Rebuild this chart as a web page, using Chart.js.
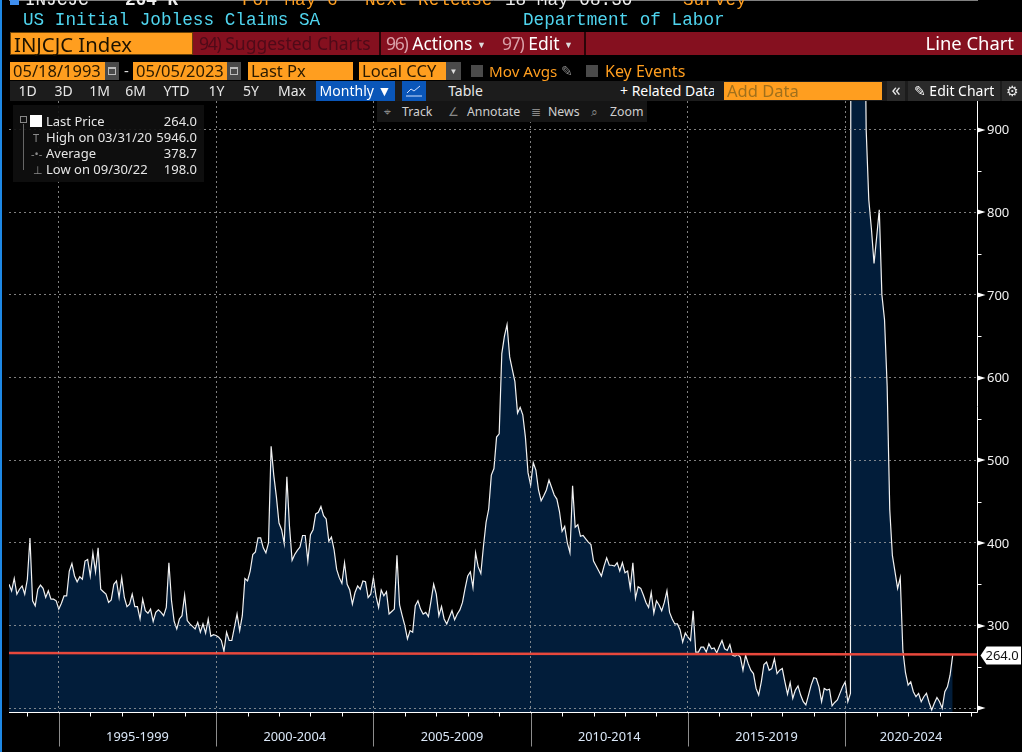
<!DOCTYPE html>
<html>
<head>
<meta charset="utf-8">
<title>US Initial Jobless Claims SA</title>
<script src="https://cdn.jsdelivr.net/npm/chart.js@4/dist/chart.umd.min.js"></script>
<style>
  html, body { margin: 0; padding: 0; background: #000; }
  #page { position: relative; width: 1022px; height: 752px; overflow: hidden; background: #000; font-family: "Noto Sans", sans-serif; }
  #chart { position: absolute; left: 0; top: 0; }
  .b { position: absolute; white-space: nowrap; box-sizing: border-box; }
  .mono { font-family: "Liberation Mono", monospace; font-size: 17.7px; line-height: 20px; }
  .org { background: #ff9e1f; color: #2a1a00; font-size: 16.5px; line-height: 18px; padding-left: 3px; }
  .cal { background: #4a4a4a; }
  .cal i { position: absolute; left: 3px; top: 5px; width: 8px; height: 8px; border: 1px solid #bbb; box-sizing: border-box; border-top-width: 2px; }
  .tab { background: #1c1c1c; color: #e8e8e8; font-size: 14px; line-height: 19px; text-align: center; height: 20px; top: 81px; }
  .float { color: #cfcfcf; font-size: 12.3px; line-height: 21px; top: 101px; }
  .leg { color: #e6e6e6; font-size: 13px; line-height: 16px; }
  .gl { color: #8a8a8a; font-size: 11px; line-height: 16px; }
  .hd { font-size: 17.5px; line-height: 22px; top: 32px; color: #fff; }
  .hd b { font-weight: normal; letter-spacing: -1.2px; color: #d9a0a8; }
  .hd u { text-decoration: none; font-size: 9px; vertical-align: 2px; color: #ddd; }
</style>
</head>
<body>
<div id="page">
  <canvas id="chart" width="1022" height="752"></canvas>

  <div class="b" style="left:0;top:0;width:2px;height:752px;background:#1e88e5"></div>
  <div class="b" style="left:10px;top:0;width:9px;height:5px;background:#3f8ff0"></div>

  <div class="b mono" style="left:25px;top:-10px;color:#eee">INJCJC</div>
  <div class="b mono" style="left:125px;top:-10px;color:#eee;font-weight:bold">264 K</div>
  <div class="b mono" style="left:242px;top:-10px;color:#ff9e1f">For May 6</div>
  <div class="b mono" style="left:365px;top:-10px;color:#ff9e1f">Next Release</div>
  <div class="b mono" style="left:505px;top:-10px;color:#eee">18 May 08:30</div>
  <div class="b mono" style="left:683px;top:-10px;color:#ff9e1f">Survey</div>
  <div class="b mono" style="left:23px;top:10px;color:#4fd4ee">US Initial Jobless Claims SA</div>
  <div class="b mono" style="left:523px;top:10px;color:#4fd4ee">Department of Labor</div>

  <div class="b" style="left:193px;top:32px;width:829px;height:23px;background:#85101f"></div>
  <div class="b" style="left:379px;top:32px;width:2px;height:23px;background:#2a0508"></div>
  <div class="b" style="left:584px;top:32px;width:2px;height:23px;background:#2a0508"></div>
  <div class="b org" style="left:10px;top:32px;width:183px;height:23px;font-size:20.3px;line-height:22px;color:#1c1200;border:1px solid #6a4208;padding-left:3px">INJCJC Index</div>
  <div class="b hd" style="left:199px;color:#4f0a18"><b style="color:#4f0a18">94)</b> Suggested Charts</div>
  <div class="b hd" style="left:386px"><b>96)</b> Actions <u>▼</u></div>
  <div class="b hd" style="left:502px"><b>97)</b> Edit <u>▼</u></div>
  <div class="b hd" style="right:8px;font-size:18.4px">Line Chart</div>

  <div class="b org" style="left:10px;top:62px;width:95px;height:18px">05/18/1993</div>
  <div class="b cal" style="left:105px;top:62px;width:14px;height:18px"><i></i></div>
  <div class="b" style="left:124px;top:61px;color:#ddd;font-size:15px;line-height:18px">-</div>
  <div class="b org" style="left:133px;top:62px;width:94px;height:18px">05/05/2023</div>
  <div class="b cal" style="left:227px;top:62px;width:14px;height:18px"><i></i></div>
  <div class="b org" style="left:248px;top:62px;width:105px;height:18px">Last Px</div>
  <div class="b org" style="left:359px;top:62px;width:87px;height:18px">Local CCY</div>
  <div class="b cal" style="left:446px;top:62px;width:15px;height:18px;color:#ddd;font-size:8px;line-height:18px;text-align:center">▼</div>
  <div class="b cal" style="left:471px;top:65px;width:12px;height:12px"></div>
  <div class="b" style="left:489px;top:62px;color:#ff9e1f;font-size:15.2px;line-height:18px">Mov Avgs</div>
  <div class="b" style="left:561px;top:62px;color:#888;font-size:14px;line-height:18px">✎</div>
  <div class="b cal" style="left:586px;top:65px;width:12px;height:12px"></div>
  <div class="b" style="left:605px;top:62px;color:#ff9e1f;font-size:16px;line-height:18px">Key Events</div>

  <div class="b" style="left:10px;top:81px;width:1012px;height:20px;background:#1c1c1c"></div>
  <div class="b tab" style="left:10px;width:35px">1D</div>
  <div class="b tab" style="left:46px;width:35px">3D</div>
  <div class="b tab" style="left:82px;width:35px">1M</div>
  <div class="b tab" style="left:118px;width:35px">6M</div>
  <div class="b tab" style="left:154px;width:45px">YTD</div>
  <div class="b tab" style="left:200px;width:33px">1Y</div>
  <div class="b tab" style="left:234px;width:34px">5Y</div>
  <div class="b tab" style="left:269px;width:46px">Max</div>
  <div class="b tab" style="left:316px;width:79px;background:#0a56b8;color:#fff">Monthly ▼</div>
  <div class="b tab" style="left:402px;width:24px;background:#0a56b8">
    <svg width="18" height="14" style="margin-top:3px"><polyline points="2,9 6,5 9,7 15,2" fill="none" stroke="#cfe0ff" stroke-width="1"/><line x1="1" y1="12" x2="17" y2="12" stroke="#cfe0ff"/></svg>
  </div>
  <div class="b tab" style="left:432px;width:67px">Table</div>
  <div class="b tab" style="left:616px;width:98px;overflow:hidden;text-align:left;padding-left:4px;color:#fff">+ Related Data</div>
  <div class="b org" style="left:724px;top:82px;width:158px;height:18px;color:#a0701c">Add Data</div>
  <div class="b tab" style="left:887px;width:18px;background:#2a2a2a;font-size:18px;line-height:17px">«</div>
  <div class="b tab" style="left:908px;width:92px;background:#2a2a2a;color:#fff">✎ Edit Chart</div>
  <div class="b tab" style="left:1002px;width:20px;background:#2a2a2a">⚙</div>

  <div class="b" style="left:377px;top:101px;width:270px;height:21px;background:#151515"></div>
  <div class="b float" style="left:384px;color:#888">⌖</div>
  <div class="b float" style="left:402px">Track</div>
  <div class="b float" style="left:448px;color:#888">∠</div>
  <div class="b float" style="left:467px">Annotate</div>
  <div class="b float" style="left:531px;color:#888">≣</div>
  <div class="b float" style="left:548px">News</div>
  <div class="b float" style="left:591px;color:#888">⌕</div>
  <div class="b float" style="left:610px">Zoom</div>

  <div class="b" style="left:13px;top:105px;width:191px;height:77px;background:rgba(16,16,16,.9)"></div>
  <div class="b" style="left:23px;top:124px;width:1px;height:46px;background:#666"></div>
  <div class="b" style="left:20px;top:116px;width:7px;height:7px;border:1px solid #888;background:#111"></div>
  <div class="b" style="left:30px;top:115px;width:12px;height:12px;background:#fff"></div>
  <div class="b gl" style="left:33px;top:130px">T</div>
  <div class="b gl" style="left:31px;top:146px">-•-</div>
  <div class="b gl" style="left:33px;top:162px">⊥</div>
  <div class="b leg" style="left:46px;top:113px">Last Price</div>
  <div class="b leg" style="right:825px;top:113px">264.0</div>
  <div class="b leg" style="left:46px;top:129px">High on 03/31/20</div>
  <div class="b leg" style="right:825px;top:129px">5946.0</div>
  <div class="b leg" style="left:46px;top:145px">Average</div>
  <div class="b leg" style="right:825px;top:145px">378.7</div>
  <div class="b leg" style="left:46px;top:161px">Low on 09/30/22</div>
  <div class="b leg" style="right:825px;top:161px">198.0</div>
</div>

<script>
// monthly readings, May 1993 to May 2023 (month end)
const firstMonth = 1993 + 5 / 12;
const claims1993to1994 = [350,342,357,338,344,348,338,356,406,330,324,344,349,345,334,342,332,332,330,320];
const claims1995to1999 = [327,336,336,366,375,360,353,359,356,378,380,360,388,365,394,344,341,338,328,331,
  350,354,334,358,334,323,326,338,323,323,308,332,318,315,320,305,316,319,316,312,
  322,376,330,305,296,308,312,337,306,302,299,296,304,292,302,291,308,287,289,288];
const claims2000to2004 = [286,282,269,292,282,282,298,314,294,312,357,354,366,386,389,406,406,394,388,400,
  517,482,456,424,416,399,480,420,379,386,391,395,409,409,378,410,416,435,437,444,
  433,429,402,407,392,368,358,351,376,350,343,326,340,348,344,354,353,334,338,358];
const claims2005to2009 = [336,322,343,336,341,314,317,320,385,325,312,300,284,294,292,324,330,320,314,316,
  311,330,350,338,312,323,308,302,310,318,307,314,319,328,345,360,365,346,388,371,
  363,396,425,441,482,490,528,532,629,650,664,625,610,595,557,564,555,528,485,470];
const claims2010to2014 = [497,488,464,451,457,464,476,467,458,453,438,414,420,400,388,469,419,422,408,409,
  405,401,398,378,372,366,360,372,382,373,373,372,376,366,376,364,366,345,376,333,
  347,345,337,328,322,340,315,330,325,318,328,342,316,308,302,302,295,280,291,286];
const claims2015to2019 = [282,318,268,268,274,274,268,278,272,273,267,275,282,272,270,277,264,263,265,262,
  246,264,254,246,242,224,216,232,253,256,246,248,260,242,246,248,232,217,231,212,
  222,227,216,208,204,216,228,237,236,226,208,224,222,223,203,207,210,218,226,232];
const claims2020to2023 = [208,218,5946,3450,2120,1480,1200,900,815,780,738,770,803,700,670,590,440,385,365,345,
  358,270,243,228,232,220,214,218,208,214,218,207,198,206,213,208,200,220,226,240,264];
const claimsValues = [...claims1993to1994, ...claims1995to1999, ...claims2000to2004,
  ...claims2005to2009, ...claims2010to2014, ...claims2015to2019, ...claims2020to2023];
const lastPriceLine = [267, 265];
const periodStarts = [1995, 2000, 2005, 2010, 2015, 2020];
const periodLabels = ['1995-1999', '2000-2004', '2005-2009', '2010-2014', '2015-2019', '2020-2024'];
const yTicks = [200,250,300,350,400,450,500,550,600,650,700,750,800,850,900];
const hiddenYLabels = [200];
const lastPriceText = '264.0';

const xMin = firstMonth;
const xMax = 2024.19;
const yMin = 195.5;
const yMax = 934.5;

const labelAt = {};
periodStarts.forEach((s, i) => {
  labelAt[(s + Math.min(s + 5, xMax)) / 2] = periodLabels[i];
});
const xTicks = [...periodStarts, ...Object.keys(labelAt).map(Number)].sort((a, b) => a - b);

// axis lines, ticks under the axis, arrows at the hundreds and the last price tag
const axisMarks = {
  id: 'axisMarks',
  afterDraw(chart) {
    const { ctx, chartArea, scales } = chart;
    const x = scales.x, y = scales.y;
    const bottom = Math.round(chartArea.bottom) + 0.5;
    const right = Math.round(chartArea.right) + 0.5;
    ctx.save();
    ctx.strokeStyle = '#fff';
    ctx.lineWidth = 1;
    ctx.beginPath();
    ctx.moveTo(chartArea.left, bottom);
    ctx.lineTo(right, bottom);
    ctx.moveTo(right, bottom);
    ctx.lineTo(right, chartArea.top);
    ctx.stroke();
    for (let yr = 1994; yr <= 2024; yr++) {
      const px = Math.round(x.getPixelForValue(yr)) + 0.5;
      ctx.beginPath();
      ctx.moveTo(px, bottom);
      ctx.lineTo(px, bottom + 4);
      ctx.stroke();
    }
    ctx.strokeStyle = '#8c8c8c';
    periodStarts.forEach(s => {
      const px = Math.round(x.getPixelForValue(s)) + 0.5;
      ctx.beginPath();
      ctx.moveTo(px, bottom + 1);
      ctx.lineTo(px, bottom + 34);
      ctx.stroke();
    });
    ctx.strokeStyle = '#fff';
    ctx.fillStyle = '#fff';
    yTicks.forEach(v => {
      const py = Math.round(y.getPixelForValue(v));
      if (v % 100 === 0) {
        ctx.beginPath();
        ctx.moveTo(right, py - 2.5);
        ctx.lineTo(right + 8, py);
        ctx.lineTo(right, py + 2.5);
        ctx.fill();
      } else {
        ctx.beginPath();
        ctx.moveTo(right, py + 0.5);
        ctx.lineTo(right + 4, py + 0.5);
        ctx.stroke();
      }
    });
    const tagY = y.getPixelForValue(lastPriceLine[1]) + 1;
    ctx.beginPath();
    ctx.moveTo(right + 3, tagY);
    ctx.lineTo(right + 9, tagY - 9);
    ctx.lineTo(1021, tagY - 9);
    ctx.lineTo(1021, tagY + 9);
    ctx.lineTo(right + 9, tagY + 9);
    ctx.closePath();
    ctx.fill();
    ctx.fillStyle = '#111';
    ctx.font = '13px "Noto Sans"';
    ctx.textBaseline = 'middle';
    ctx.textAlign = 'left';
    ctx.fillText(lastPriceText, right + 8, tagY + 1);
    ctx.restore();
  }
};

new Chart(document.getElementById('chart'), {
  type: 'line',
  data: {
    datasets: [
      {
        data: claimsValues.map((v, i) => ({ x: firstMonth + i / 12, y: v })),
        borderColor: '#f2f2f2',
        borderWidth: 1.2,
        backgroundColor: '#021d3a',
        fill: 'start',
        pointRadius: 0,
        tension: 0,
        order: 2
      },
      {
        data: [{ x: xMin, y: lastPriceLine[0] }, { x: xMax, y: lastPriceLine[1] }],
        borderColor: '#e8483c',
        borderWidth: 2.5,
        pointRadius: 0,
        fill: false,
        order: 1
      }
    ]
  },
  options: {
    responsive: false,
    animation: false,
    layout: { padding: { left: 9, top: 101, right: 0, bottom: 0 } },
    plugins: { legend: { display: false }, tooltip: { enabled: false } },
    scales: {
      x: {
        type: 'linear',
        min: xMin,
        max: xMax,
        afterBuildTicks: s => { s.ticks = xTicks.map(v => ({ value: v })); },
        afterFit: s => { s.height = 40; },
        ticks: {
          autoSkip: false,
          maxRotation: 0,
          padding: 18,
          color: '#dbe8f8',
          font: { family: '"Noto Sans"', size: 12.8 },
          callback: v => labelAt[v] || ''
        },
        grid: {
          z: 1,
          drawTicks: false,
          color: c => (periodStarts.includes(c.tick && c.tick.value) ? 'rgba(170,170,170,.75)' : 'rgba(0,0,0,0)')
        },
        border: { color: '#fff', width: 1, dash: [2, 3] }
      },
      y: {
        position: 'right',
        min: yMin,
        max: yMax,
        afterBuildTicks: s => { s.ticks = yTicks.map(v => ({ value: v })); },
        afterFit: s => { s.width = 45; },
        ticks: {
          autoSkip: false,
          padding: 10,
          labelOffset: 1,
          color: '#f0f0f0',
          font: { family: '"Noto Sans"', size: 13 },
          callback: v => (v % 100 === 0 && !hiddenYLabels.includes(v) ? String(v) : '')
        },
        grid: {
          z: 1,
          drawTicks: false,
          color: c => (c.tick && c.tick.value % 100 === 0 ? 'rgba(170,170,170,.75)' : 'rgba(0,0,0,0)')
        },
        border: { color: '#fff', width: 1, dash: [2, 3] }
      }
    }
  },
  plugins: [axisMarks]
});
</script>
</body>
</html>
